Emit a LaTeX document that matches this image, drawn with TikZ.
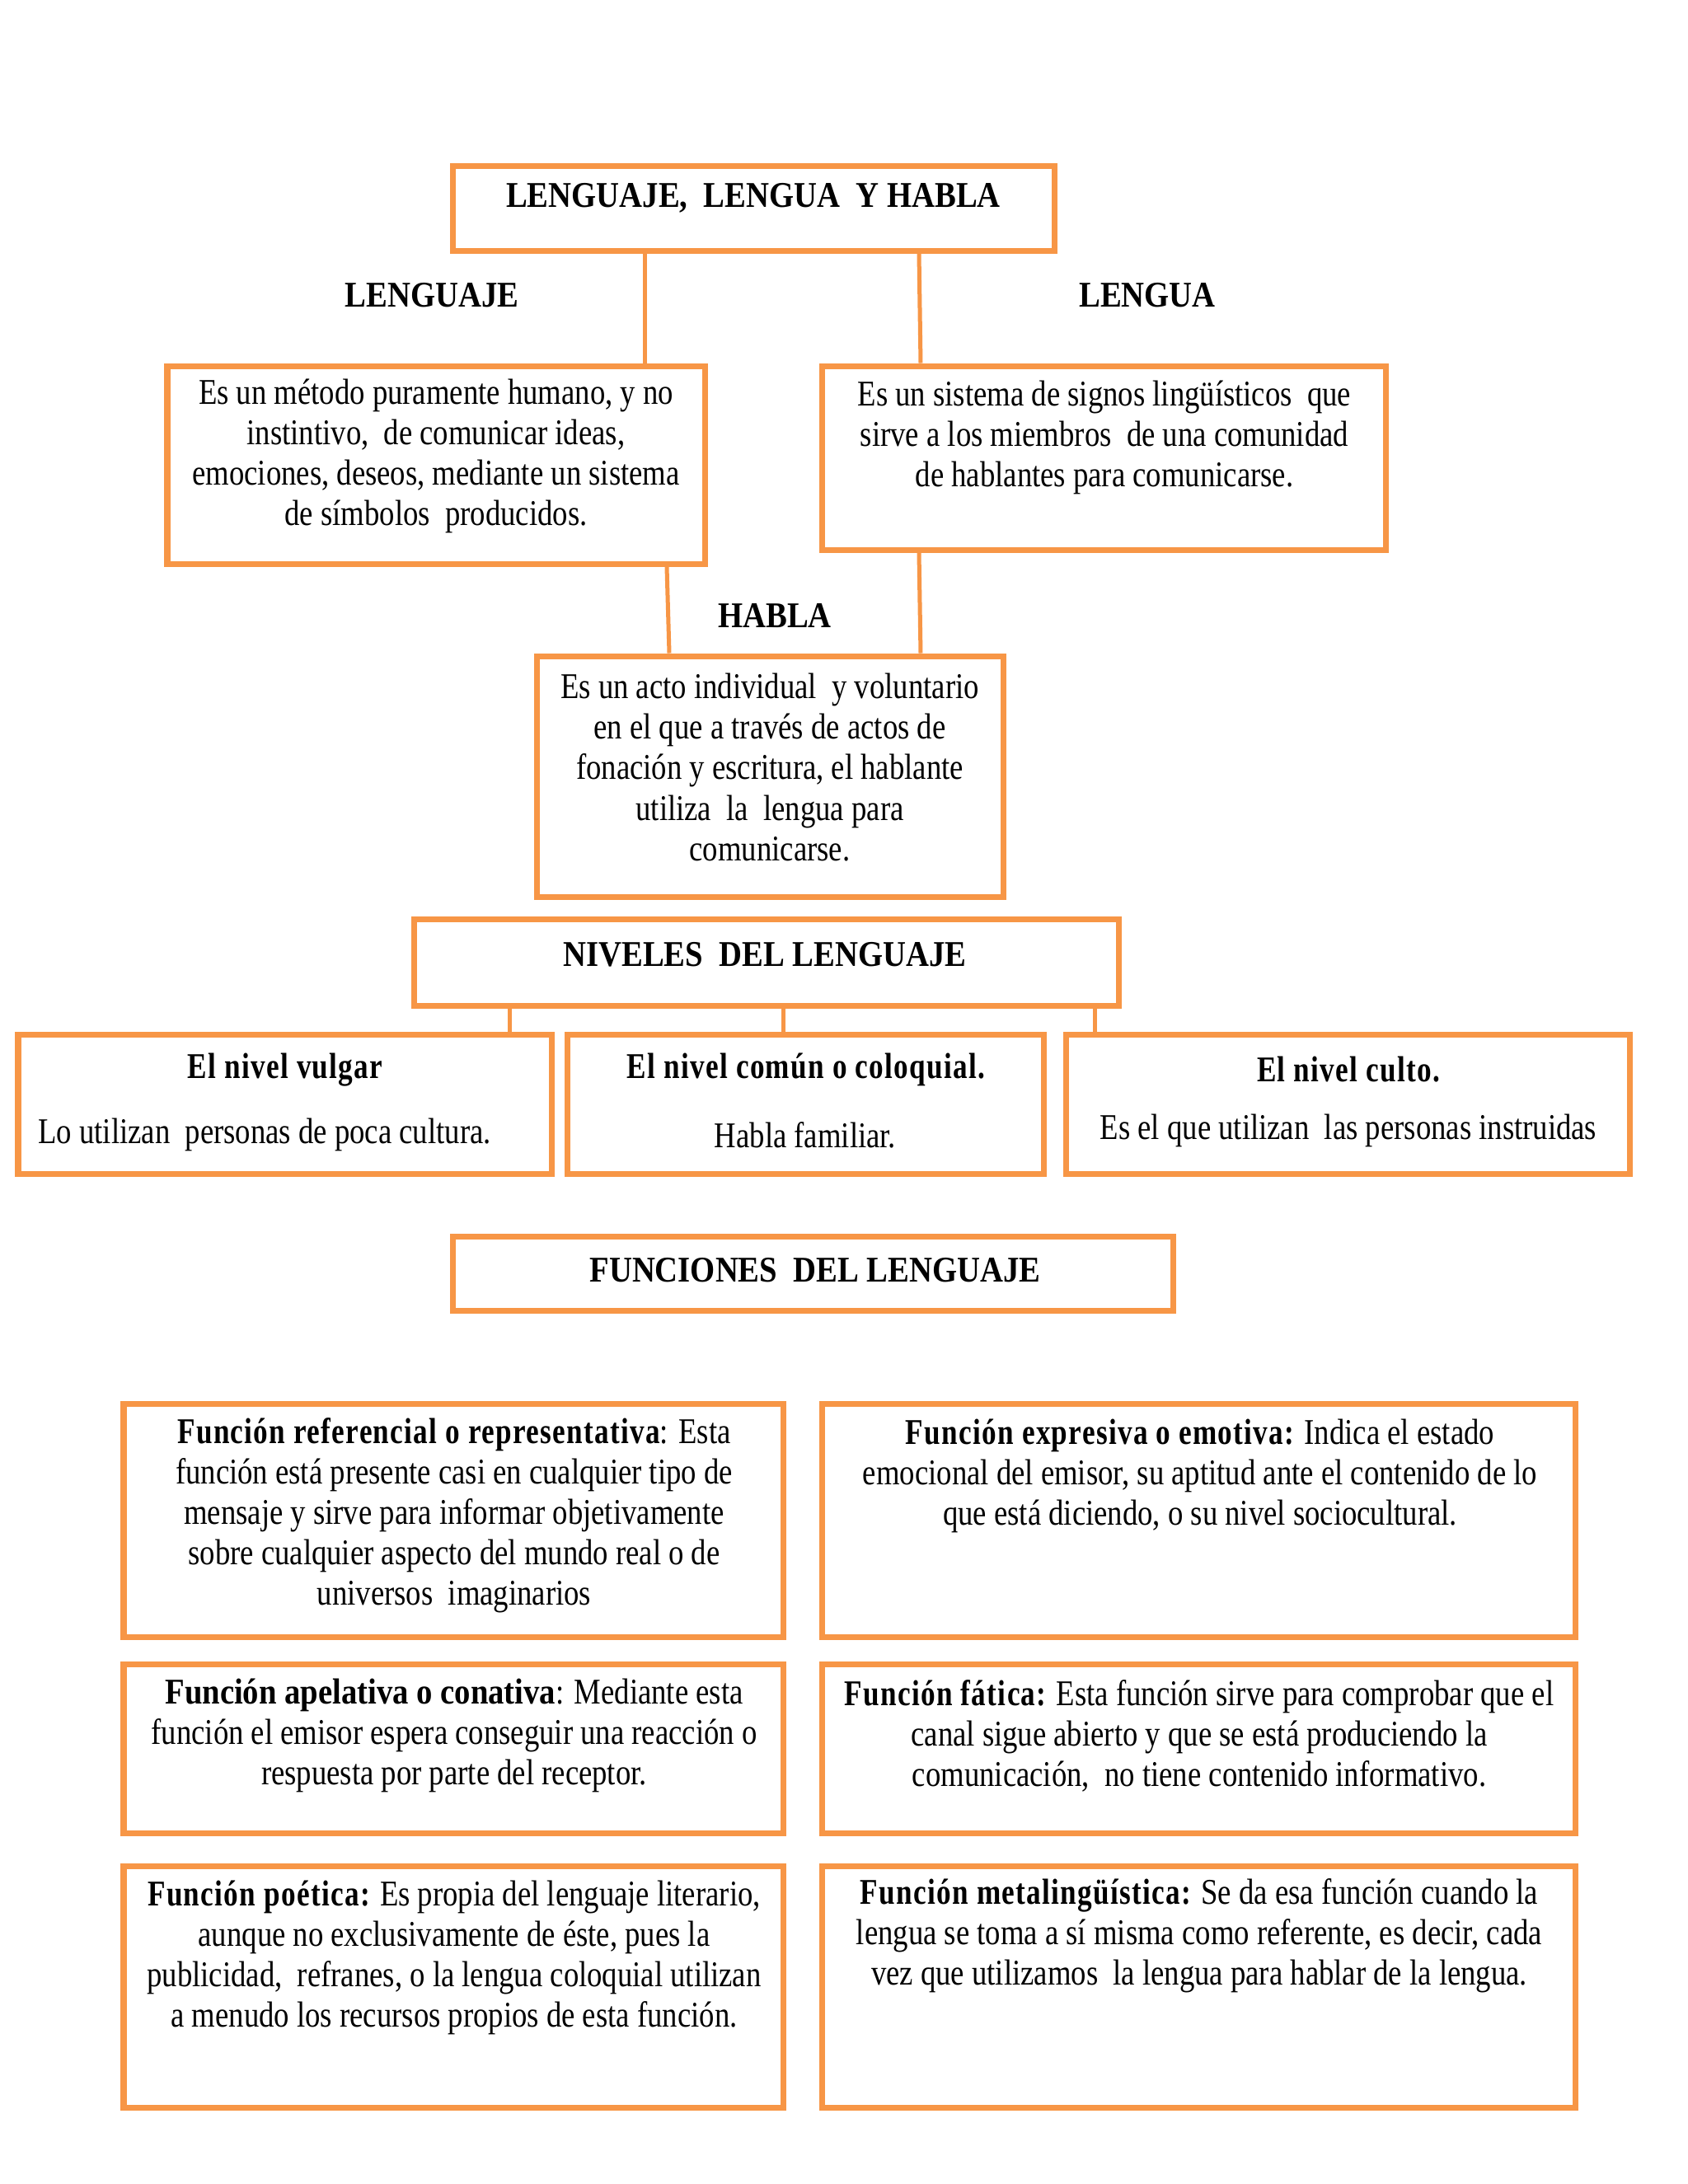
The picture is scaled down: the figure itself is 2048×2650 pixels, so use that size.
\documentclass[tikz,border=0pt]{standalone}
\usepackage{fontspec}
\setmainfont{Liberation Serif}[FakeStretch=0.835]
\newfontfamily\titular{Liberation Serif Bold}[FakeStretch=0.88]
\newfontfamily\espaciada{Liberation Serif Bold}[FakeStretch=0.8,LetterSpace=3]
\usetikzlibrary{fit}
\definecolor{naranja}{HTML}{F79646}
\tikzset{
	Caja/.style={draw=naranja, line width=0.07cm, inner sep=0pt},
	Enlace/.style={draw=naranja, line width=0.05cm},
	Texto/.style={inner sep=0pt, align=center, font=\fontsize{12.5}{13.95}\selectfont},
	Rotulo/.style={Texto, font=\fontsize{12.5}{13.95}\selectfont\titular}
}
\newcommand{\fn}[1]{{\espaciada #1}}

\begin{document}
\begin{tikzpicture}[x=0.01cm, y=-0.01cm]
	\useasboundingbox[fill=white] (0,0) rectangle (2048,2650);

	% Cajas
	\node[Caja, fit={(549,201) (1279,304)}] (tit) {};
	\node[Caja, fit={(203,444) (855,684)}] (izq) {};
	\node[Caja, fit={(997,444) (1681,667)}] (der) {};
	\node[Caja, fit={(651,796) (1217,1088)}] (habla) {};
	\node[Caja, fit={(502,1115) (1357,1220)}] (niv) {};
	\node[Caja, fit={(22,1255) (669,1424)}] (vulgar) {};
	\node[Caja, fit={(688,1255) (1266,1424)}] (comun) {};
	\node[Caja, fit={(1293,1255) (1977,1424)}] (culto) {};
	\node[Caja, fit={(549,1500) (1423,1590)}] (fun) {};
	\node[Caja, fit={(150,1703) (950,1986)}] (fref) {};
	\node[Caja, fit={(997,1703) (1911,1986)}] (fexp) {};
	\node[Caja, fit={(150,2019) (950,2224)}] (fape) {};
	\node[Caja, fit={(997,2019) (1911,2224)}] (ffat) {};
	\node[Caja, fit={(150,2264) (950,2557)}] (fpoe) {};
	\node[Caja, fit={(997,2264) (1911,2557)}] (fmet) {};

	% Enlaces
	\draw[Enlace] (782,0 |- tit.south) -- (782,0 |- izq.north);
	\draw[Enlace] (1115,0 |- tit.south) -- (1117,0 |- der.north);
	\draw[Enlace] (809,0 |- izq.south) -- (812,0 |- habla.north);
	\draw[Enlace] (1115,0 |- der.south) -- (1117,0 |- habla.north);
	\foreach \x/\b in {618/vulgar, 950/comun, 1328/culto}
		\draw[Enlace] (\x,0 |- niv.south) -- (\x,0 |- \b.north);

	% Textos
	\node[Rotulo] (titT) at (914,240) {LENGUAJE,\ \ LENGUA\ \ Y HABLA};
	\node[Rotulo] (lenguajeT) at (524,358) {LENGUAJE};
	\node[Rotulo] (lenguaT) at (1392,358) {LENGUA};
	\node[Rotulo] (hablaR) at (940,747) {HABLA};
	\node[Texto] (izqT) at (529,553) {Es un método puramente humano, y no\\ instintivo,\ \ de comunicar ideas,\\ emociones, deseos, mediante un sistema\\ de símbolos\ \ producidos.};
	\node[Texto] (derT) at (1340,531) {Es un sistema de signos lingüísticos\ \ que\\ sirve a los miembros\ \ de una comunidad\\ de hablantes para comunicarse.};
	\node[Texto] (hablaT) at (934,931) {Es un acto individual\ \ y voluntario\\ en el que a través de actos de\\ fonación\ y escritura, el hablante\\ utiliza\ \ la\ \ lengua para\\ comunicarse.};
	\node[Rotulo] (nivT) at (928,1158) {NIVELES\ \ DEL LENGUAJE};
	\node[Texto] (vulgarR) at (346,1298) {\fn{El nivel vulgar}};
	\node[Texto] (vulgarT) at (321,1377) {Lo utilizan\ \ personas de poca cultura.};
	\node[Texto] (comunR) at (978,1298) {\fn{El nivel común o coloquial.}};
	\node[Texto] (comunT) at (977,1377) {Habla familiar.};
	\node[Texto] (cultoR) at (1636,1298) {\fn{El nivel culto.}};
	\node[Texto] (cultoT) at (1636,1372) {Es el que utilizan\ \ las personas instruidas};
	\node[Rotulo] (funT) at (989,1541) {FUNCIONES\ \ DEL LENGUAJE};
	\node[Texto] (frefT) at (551,1839) {\fn{Función referencial o representativa}: Esta\\ función está presente casi en cualquier tipo de\\ mensaje y sirve para informar objetivamente\\ sobre cualquier aspecto del mundo real o de\\ universos\ \ imaginarios};
	\node[Texto] (fexpT) at (1456,1791) {\fn{Función expresiva o emotiva:} Indica el estado\\ emocional del emisor,\ su aptitud ante el contenido de lo\\ que está diciendo, o su nivel\ sociocultural.};
	\node[Texto] (fapeT) at (551,2106) {{\titular Función apelativa o conativa}: Mediante esta\\ función el emisor espera conseguir una reacción o\\ respuesta por parte del receptor.};
	\node[Texto] (ffatT) at (1455,2106) {\fn{Función fática:} Esta función sirve para comprobar que el\\ canal sigue abierto y que se está produciendo la\\ comunicación,\ \ no tiene contenido\ informativo.};
	\node[Texto] (fpoeT) at (551,2375) {\fn{Función poética:} Es propia del lenguaje literario,\\ aunque no exclusivamente\ de éste, pues la\\ publicidad,\ \ refranes, o la lengua coloquial\ utilizan\\ a menudo los\ recursos propios de esta función.};
	\node[Texto] (fmetT) at (1455,2349) {\fn{Función metalingüística:} Se da esa función cuando la\\ lengua\ se toma a sí misma como referente, es decir, cada\\ vez que utilizamos\ \ la lengua para hablar de la lengua.};
\end{tikzpicture}
\end{document}
